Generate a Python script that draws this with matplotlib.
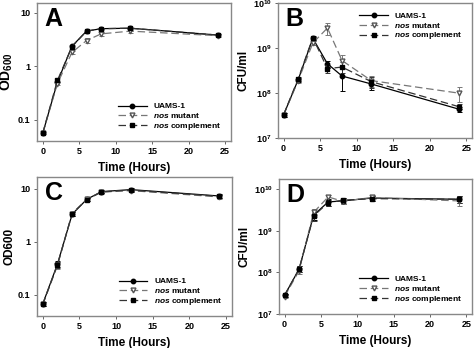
import matplotlib
matplotlib.use("Agg")
import matplotlib.pyplot as plt
from matplotlib.ticker import FixedLocator, FixedFormatter, NullLocator, LogFormatterMathtext

plt.rcParams['font.family'] = ['Liberation Sans', 'DejaVu Sans']
plt.rcParams['font.weight'] = 'bold'
plt.rcParams['mathtext.fontset'] = 'custom'
plt.rcParams['mathtext.rm'] = 'Liberation Sans:bold'
plt.rcParams['mathtext.it'] = 'Liberation Sans:italic:bold'
plt.rcParams['mathtext.bf'] = 'Liberation Sans:bold'

time = [0, 2, 4, 6, 8, 12, 24]
labels = ["UAMS-1", r"$\mathit{nos}$ mutant", r"$\mathit{nos}$ complement"]

# Panel A: OD600
a_wt = [0.056, 0.50, 2.35, 4.5, 5.0, 5.1, 3.8]
a_mut = [0.056, 0.47, 1.8, 3.0, 4.0, 4.5, 3.7]
a_comp = [0.056, 0.54, 2.3, 4.5, 5.0, 5.1, 3.8]
a_mut_err = [0.003, 0.03, 0.15, 0.35, 0.3, 0.3, 0.2]

# Panel B: CFU/ml
b_wt = [3.3e7, 2.0e8, 1.65e9, 4.5e8, 2.4e8, 1.6e8, 4.4e7]
b_mut = [3.3e7, 1.9e8, 1.3e9, 2.8e9, 5.3e8, 1.9e8, 1.0e8]
b_comp = [3.3e7, 2.1e8, 1.7e9, 3.5e8, 3.8e8, 1.8e8, 5.0e7]
b_wt_err = [3e6, 2e7, 1.5e8, 7e7, 1.3e8, 4e7, 5e6]
b_mut_err = [3e6, 2e7, 1.5e8, 8e8, 1.8e8, 5e7, 3.5e7]
b_comp_err = [3e6, 2e7, 1.5e8, 7e7, 1e8, 5e7, 6e6]

# Panel C: OD600
c_wt = [0.068, 0.38, 3.3, 6.3, 8.8, 9.6, 7.3]
c_mut = [0.066, 0.36, 3.4, 6.3, 8.6, 9.2, 7.0]
c_comp = [0.067, 0.37, 3.4, 6.2, 8.7, 9.4, 7.2]
c_err = [0.005, 0.05, 0.3, 0.4, 0.5, 0.6, 0.5]

# Panel D: CFU/ml
d_wt = [2.8e7, 1.2e8, 2.4e9, 5.0e9, 5.3e9, 6.2e9, 5.8e9]
d_mut = [2.6e7, 1.1e8, 2.8e9, 6.6e9, 5.2e9, 6.4e9, 5.3e9]
d_comp = [2.8e7, 1.2e8, 2.3e9, 4.8e9, 5.5e9, 6.0e9, 5.8e9]
d_err = [2e6, 2e7, 6e8, 9e8, 8e8, 8e8, 1.2e9]

fig = plt.figure(figsize=(4.74, 3.48), dpi=100)
axA = fig.add_axes([0.078, 0.595, 0.409, 0.396])
axB = fig.add_axes([0.586, 0.603, 0.410, 0.388])
axC = fig.add_axes([0.078, 0.092, 0.411, 0.399])
axD = fig.add_axes([0.588, 0.098, 0.408, 0.388])

styles = [
    dict(color='black', linestyle='-', marker='o', markersize=3.2, markerfacecolor='black', linewidth=0.9),
    dict(color='#777777', linestyle=(0, (6, 3)), marker='v', markersize=3.5, markerfacecolor='white', markeredgecolor='#555555', linewidth=0.9),
    dict(color='#333333', linestyle=(0, (6, 3)), marker='s', markersize=3.2, markerfacecolor='black', markeredgecolor='black', linewidth=0.9),
]

def draw(ax, series, errs, ylabel, ylsize, letter, od, ylim, legloc):
    handles = []
    for s, e, st, lab in zip(series, errs, styles, labels):
        cont = ax.errorbar(time, s, yerr=e, capsize=1.8, elinewidth=0.7, capthick=0.7,
                           ecolor=st['color'], **st)
        handles.append(cont.lines[0])
    ax.set_yscale('log')
    ax.set_xlim(-0.8, 25.8)
    ax.set_ylim(*ylim)
    ax.set_xticks([0, 5, 10, 15, 20, 25])
    if od:
        ax.yaxis.set_major_locator(FixedLocator([0.1, 1, 10]))
        ax.yaxis.set_major_formatter(FixedFormatter(['0.1', '1', '10']))
    else:
        ax.yaxis.set_major_locator(FixedLocator([1e7, 1e8, 1e9, 1e10]))
        ax.yaxis.set_major_formatter(LogFormatterMathtext())
    ax.yaxis.set_minor_locator(NullLocator())
    ax.tick_params(labelsize=6.5, length=2.5, width=0.7, color='#666666', pad=2)
    for lbl in ax.get_xticklabels() + ax.get_yticklabels():
        lbl.set_fontweight('bold')
    for sp in ax.spines.values():
        sp.set_color('#888888')
        sp.set_linewidth(1.0)
    ax.set_xlabel('Time (Hours)', fontsize=8.5, fontweight='bold', labelpad=4)
    ax.set_ylabel(ylabel, fontsize=ylsize, fontweight='bold', labelpad=2)
    ax.text(0.04, 0.97, letter, transform=ax.transAxes, fontsize=18, fontweight='bold',
            va='top', ha='left')
    ax.legend(handles, labels, loc=legloc, frameon=False, fontsize=6, handlelength=3.4,
              labelspacing=0.08, handletextpad=0.8, borderaxespad=0.7)

draw(axA, [a_wt, a_mut, a_comp], [None, a_mut_err, None], r'OD$_{600}$', 10, 'A', True, (0.04, 15), 'lower right')
draw(axB, [b_wt, b_mut, b_comp], [b_wt_err, b_mut_err, b_comp_err], 'CFU/ml', 8.5, 'B', False, (1e7, 1e10), 'upper right')
draw(axC, [c_wt, c_mut, c_comp], [c_err, c_err, c_err], 'OD600', 8.5, 'C', True, (0.04, 16.5), 'lower right')
draw(axD, [d_wt, d_mut, d_comp], [d_err, d_err, d_err], 'CFU/ml', 8.5, 'D', False, (1e7, 1.8e10), 'lower right')

fig.savefig('out.png', dpi=100)
